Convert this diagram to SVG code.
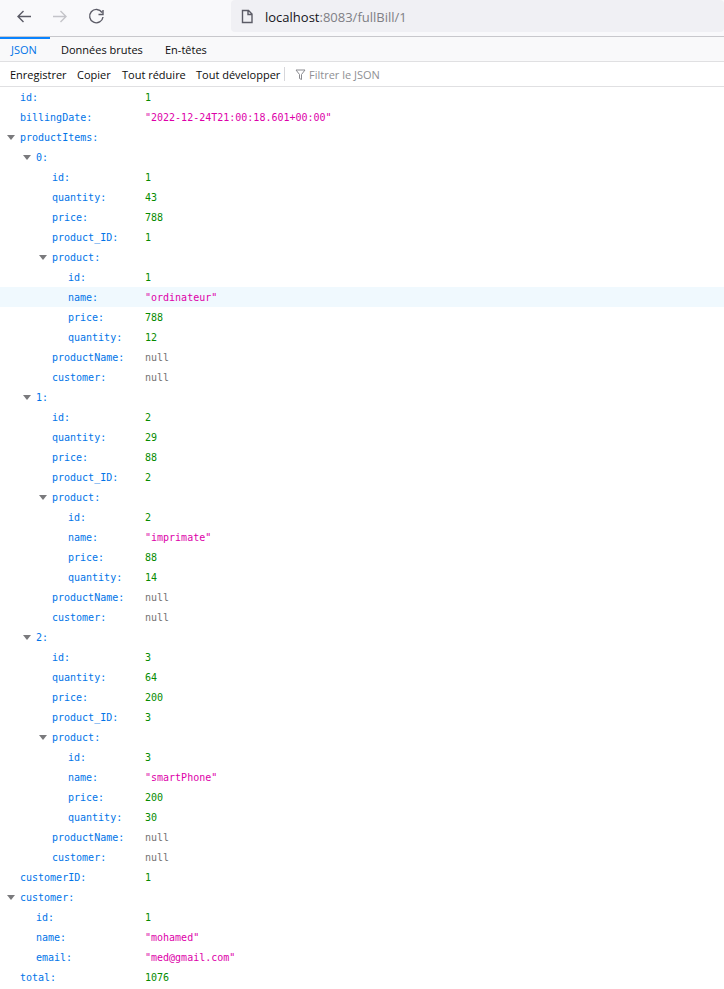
<svg xmlns="http://www.w3.org/2000/svg" width="724" height="989" viewBox="0 0 724 989">
<style>
.k,.n,.s{font-family:"DejaVu Sans Mono","Liberation Mono",monospace;font-size:10px}
.k{fill:#0074e8}.n{fill:#058b00}.s{fill:#dd00a9}
.u{font-family:"Open Sans","Noto Sans",sans-serif;font-size:11px;fill:#0c0c0d}
.tw{fill:#7a7a7d}
.ic{fill:none;stroke:#5b5b66;stroke-width:1.4}
</style>
<defs><path id="tw" class="tw" d="M0 0h8l-4 5z"/></defs>
<rect width="724" height="989" fill="#fff"/>
<g id="browser-toolbar">
<rect width="724" height="36" fill="#f9f9fb"/>
<rect x="231" y="0" width="493" height="32" rx="4" fill="#f0f0f4"/>
<rect y="36" width="724" height="1" fill="#c8c8cc"/>
<path class="ic" d="M31 16.5H18M23.500 11l-5.500 5.500 5.500 5.500"/>
<path class="ic" style="stroke:#c4c4c9" d="M53 16.500H66M60.500 11l5.500 5.500-5.500 5.500"/>
<path class="ic" d="M102 12.500A6.700 6.700 0 1 0 103 17M103 10v4.500h-4.500"/>
<path class="ic" d="M242.500 10.500h6l3.500 3.500v8.500h-9.500zM248 10.500v4h4"/>
<text x="265" y="22" style="font-family:'Open Sans','Noto Sans',sans-serif;font-size:13px"><tspan fill="#15141a">localhost</tspan><tspan fill="#7f7f85">:8083/fullBill/1</tspan></text>
</g>
<g id="tabs">
<rect y="37" width="724" height="25" fill="#f9f9fa"/>
<rect y="37" width="50" height="2" fill="#0a84ff"/>
<rect y="61" width="724" height="1" fill="#e0e0e2"/>
<text class="u" x="11" y="54" style="fill:#0074e8">JSON</text>
<text class="u" x="61" y="54">Données brutes</text>
<text class="u" x="165" y="54">En-têtes</text>
</g>
<g id="json-toolbar">
<rect y="86" width="724" height="1" fill="#e0e0e2"/>
<text class="u" x="10" y="79">Enregistrer</text>
<text class="u" x="77" y="79">Copier</text>
<text class="u" x="122" y="79">Tout réduire</text>
<text class="u" x="196" y="79">Tout développer</text>
<rect x="284" y="67" width="1" height="14" fill="#d7d7db"/>
<path d="M296 70h9l-3.500 4.500v5l-2-1v-4z" fill="none" stroke="#8a8a8f"/>
<text class="u" x="309" y="79" style="fill:#8f8f94">Filtrer le JSON</text>
</g>
<rect id="row-highlight" y="287" width="724" height="20" fill="#f0f9fe"/>
<g id="json-tree">
<use href="#tw" x="7" y="135"/><use href="#tw" x="23" y="155"/><use href="#tw" x="39" y="255"/>
<use href="#tw" x="23" y="395"/><use href="#tw" x="39" y="495"/>
<use href="#tw" x="23" y="635"/><use href="#tw" x="39" y="735"/>
<use href="#tw" x="7" y="895"/>
<text class="k" x="20" y="101">id:</text><text class="n" x="145" y="101">1</text>
<text class="k" x="20" y="121">billingDate:</text><text class="s" x="145" y="121">"2022-12-24T21:00:18.601+00:00"</text>
<text class="k" x="20" y="141">productItems:</text>
<text class="k" x="36" y="161">0:</text>
<text class="k" x="52" y="181">id:</text><text class="n" x="145" y="181">1</text>
<text class="k" x="52" y="201">quantity:</text><text class="n" x="145" y="201">43</text>
<text class="k" x="52" y="221">price:</text><text class="n" x="145" y="221">788</text>
<text class="k" x="52" y="241">product_ID:</text><text class="n" x="145" y="241">1</text>
<text class="k" x="52" y="261">product:</text>
<text class="k" x="68" y="281">id:</text><text class="n" x="145" y="281">1</text>
<text class="k" x="68" y="301">name:</text><text class="s" x="145" y="301">"ordinateur"</text>
<text class="k" x="68" y="321">price:</text><text class="n" x="145" y="321">788</text>
<text class="k" x="68" y="341">quantity:</text><text class="n" x="145" y="341">12</text>
<text class="k" x="52" y="361">productName:</text><text class="n" x="145" y="361" style="fill:#737373">null</text>
<text class="k" x="52" y="381">customer:</text><text class="n" x="145" y="381" style="fill:#737373">null</text>
<text class="k" x="36" y="401">1:</text>
<text class="k" x="52" y="421">id:</text><text class="n" x="145" y="421">2</text>
<text class="k" x="52" y="441">quantity:</text><text class="n" x="145" y="441">29</text>
<text class="k" x="52" y="461">price:</text><text class="n" x="145" y="461">88</text>
<text class="k" x="52" y="481">product_ID:</text><text class="n" x="145" y="481">2</text>
<text class="k" x="52" y="501">product:</text>
<text class="k" x="68" y="521">id:</text><text class="n" x="145" y="521">2</text>
<text class="k" x="68" y="541">name:</text><text class="s" x="145" y="541">"imprimate"</text>
<text class="k" x="68" y="561">price:</text><text class="n" x="145" y="561">88</text>
<text class="k" x="68" y="581">quantity:</text><text class="n" x="145" y="581">14</text>
<text class="k" x="52" y="601">productName:</text><text class="n" x="145" y="601" style="fill:#737373">null</text>
<text class="k" x="52" y="621">customer:</text><text class="n" x="145" y="621" style="fill:#737373">null</text>
<text class="k" x="36" y="641">2:</text>
<text class="k" x="52" y="661">id:</text><text class="n" x="145" y="661">3</text>
<text class="k" x="52" y="681">quantity:</text><text class="n" x="145" y="681">64</text>
<text class="k" x="52" y="701">price:</text><text class="n" x="145" y="701">200</text>
<text class="k" x="52" y="721">product_ID:</text><text class="n" x="145" y="721">3</text>
<text class="k" x="52" y="741">product:</text>
<text class="k" x="68" y="761">id:</text><text class="n" x="145" y="761">3</text>
<text class="k" x="68" y="781">name:</text><text class="s" x="145" y="781">"smartPhone"</text>
<text class="k" x="68" y="801">price:</text><text class="n" x="145" y="801">200</text>
<text class="k" x="68" y="821">quantity:</text><text class="n" x="145" y="821">30</text>
<text class="k" x="52" y="841">productName:</text><text class="n" x="145" y="841" style="fill:#737373">null</text>
<text class="k" x="52" y="861">customer:</text><text class="n" x="145" y="861" style="fill:#737373">null</text>
<text class="k" x="20" y="881">customerID:</text><text class="n" x="145" y="881">1</text>
<text class="k" x="20" y="901">customer:</text>
<text class="k" x="36" y="921">id:</text><text class="n" x="145" y="921">1</text>
<text class="k" x="36" y="941">name:</text><text class="s" x="145" y="941">"mohamed"</text>
<text class="k" x="36" y="961">email:</text><text class="s" x="145" y="961">"med@gmail.com"</text>
<text class="k" x="20" y="981">total:</text><text class="n" x="145" y="981">1076</text>
</g>
</svg>
